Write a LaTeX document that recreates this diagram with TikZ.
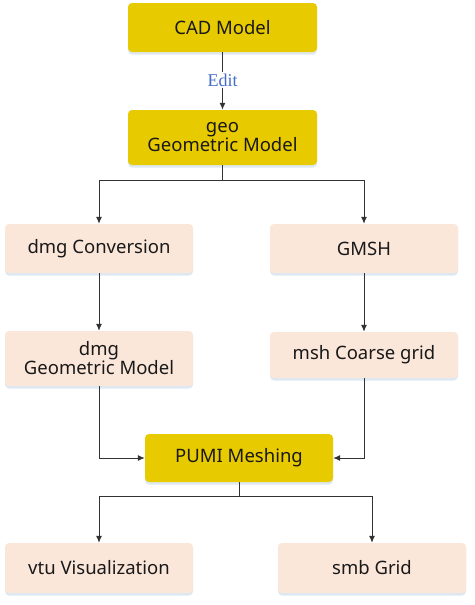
\documentclass[tikz,border=0pt]{standalone}
\usepackage{fontspec}
\setmainfont{Noto Sans}
\newfontfamily\editfont{Liberation Serif}
\usetikzlibrary{arrows.meta,positioning,calc}
\definecolor{gold}{RGB}{232,202,0}
\definecolor{peach}{RGB}{251,230,218}
\definecolor{shade}{RGB}{222,232,242}
\definecolor{editblue}{RGB}{70,110,200}
\definecolor{linecol}{RGB}{50,50,50}
\tikzset{
  x=1pt,y=-1pt,
  base/.style={rectangle,rounded corners=4pt,inner sep=0pt,align=center,font=\fontsize{18.5}{21}\selectfont,text=black!90},
  mainbox/.style={base,fill=gold,minimum width=189pt},
  subbox/.style={base,fill=peach,minimum width=188pt},
  shadowed/.style={preaction={fill=shade,transform canvas={yshift=-2.5pt}}},
  conn/.style={draw=linecol,line width=1pt,-{Latex[length=7pt,width=6pt]}},
  plain/.style={draw=linecol,line width=1pt}
}
\begin{document}
\begin{tikzpicture}
\useasboundingbox[fill=white] (0,0) rectangle (474,605);
\node[mainbox,shadowed,minimum height=49pt] (cad) at (222.5,27.5) {CAD Model};
\node[mainbox,shadowed,minimum height=55pt] (geo) at (222.5,137.5) {geo\\[-2pt]Geometric Model};
\node[subbox,shadowed,minimum height=49pt] (conv) at (99,248.5) {dmg Conversion};
\node[subbox,shadowed,minimum height=49pt] (gmsh) at (364,248.5) {GMSH};
\node[subbox,shadowed,minimum height=55pt] (dmg) at (99,358.5) {dmg\\[-2pt]Geometric Model};
\node[subbox,shadowed,minimum height=46pt] (msh) at (364,355) {msh Coarse grid};
\node[mainbox,shadowed,minimum width=188pt,minimum height=48pt] (pumi) at (239,458) {PUMI Meshing};
\node[subbox,shadowed,minimum height=50pt] (vtu) at (99,568) {vtu Visualization};
\node[subbox,shadowed,minimum height=50pt] (smb) at (372,568) {smb Grid};
\node[font=\editfont\fontsize{18}{20}\selectfont,text=editblue,fill=white,inner sep=1pt] (edit) at (222.5,80) {Edit};
\coordinate (split1) at (222.5,180);
\coordinate (split2) at (239,496);
\draw[plain] (cad) -- (edit);
\draw[conn] (edit) -- (geo);
\draw[plain] (geo.south) -- (split1);
\draw[conn] (split1) -| (conv.north);
\draw[conn] (split1) -| (gmsh.north);
\draw[conn] (conv) -- (dmg);
\draw[conn] (gmsh) -- (msh);
\draw[conn] (dmg.south) |- (pumi.west);
\draw[conn] (msh.south) |- (pumi.east);
\draw[plain] (pumi.south) -- (split2);
\draw[conn] (split2) -| (vtu.north);
\draw[conn] (split2) -| (smb.north);
\end{tikzpicture}
\end{document}
